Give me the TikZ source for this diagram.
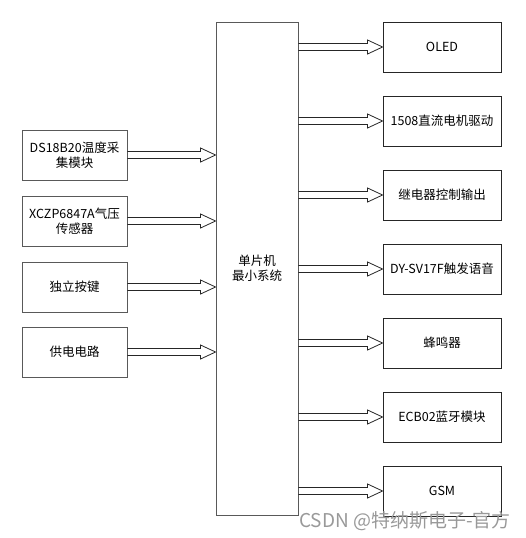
\documentclass[tikz,border=0pt]{standalone}
\usepackage{fontspec}
\setmainfont{Noto Sans CJK SC}
\usetikzlibrary{calc}

\begin{document}
\begin{tikzpicture}[x=1pt,y=-1pt,line join=miter,
    blk/.style={draw=black!65,line width=0.9pt,minimum width=105pt,minimum height=50pt,
        align=center,inner sep=1pt,font=\fontsize{12.5}{15.5}\selectfont},
    outblk/.style={blk,draw=black!85,minimum width=118pt},
    bigarr/.style={draw=black!85,line width=0.8pt}]
\useasboundingbox (0,0) rectangle (525,538);
\node[blk,minimum width=82pt,minimum height=493pt] (mcu) at (257,268.5) {单片机\\最小系统};
\foreach \y/\txt [count=\i] in {155/{DS18B20温度采\\集模块},221/{XCZP6847A气压\\传感器},287/{独立按键},352/{供电电路}}{
    \node[blk] (in-\i) at (74.5,\y) {\txt};
    \draw[bigarr] let \p1=(in-\i.east), \p2=(mcu.west |- in-\i.east) in
        (\x1,\y1+3.5pt) -- (\x2-15pt,\y1+3.5pt) -- (\x2-15pt,\y1+7pt) -- (\x2,\y1)
        -- (\x2-15pt,\y1-7pt) -- (\x2-15pt,\y1-3.5pt) -- (\x1,\y1-3.5pt);
}
\foreach \txt [count=\i, evaluate=\i as \y using 47+74*(\i-1)] in {OLED,1508直流电机驱动,继电器控制输出,DY-SV17F触发语音,蜂鸣器,ECB02蓝牙模块,GSM}{
    \node[outblk] (out-\i) at (442,\y) {\txt};
    \draw[bigarr] let \p1=(mcu.east |- out-\i.west), \p2=(out-\i.west) in
        (\x1,\y1+3.5pt) -- (\x2-15pt,\y1+3.5pt) -- (\x2-15pt,\y1+7pt) -- (\x2,\y1)
        -- (\x2-15pt,\y1-7pt) -- (\x2-15pt,\y1-3.5pt) -- (\x1,\y1-3.5pt);
}
\node[text=black!40,font=\fontsize{19}{22}\selectfont,anchor=east,inner sep=0pt] (mark) at (511,521) {CSDN @特纳斯电子-官方};
\end{tikzpicture}
\end{document}
